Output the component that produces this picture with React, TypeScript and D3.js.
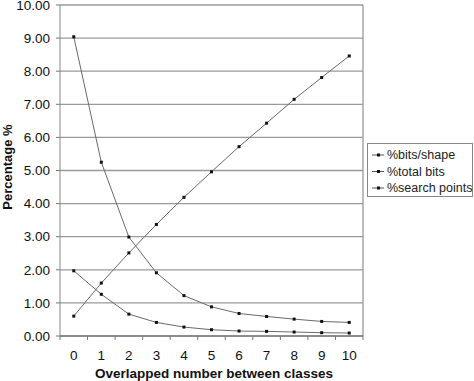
import React from "react";
import * as d3 from "d3";

const categories = ["0", "1", "2", "3", "4", "5", "6", "7", "8", "9", "10"];
const bitsShape = [9.04, 5.25, 2.99, 1.91, 1.22, 0.88, 0.68, 0.59, 0.51, 0.44, 0.41];
const totalBits = [1.97, 1.26, 0.66, 0.41, 0.27, 0.19, 0.15, 0.14, 0.12, 0.1, 0.09];
const searchPoints = [0.6, 1.6, 2.51, 3.37, 4.19, 4.96, 5.72, 6.43, 7.15, 7.81, 8.46];
const yTicks = [0, 1, 2, 3, 4, 5, 6, 7, 8, 9, 10];
const seriesNames = ["%bits/shape", "%total bits", "%search points"];

export default function App() {
  const W = 474, H = 381;
  const left = 60, right = 363, top = 5, bottom = 336;
  const x = d3.scaleBand<string>().domain(categories).range([left, right]);
  const y = d3.scaleLinear().domain([0, 10]).range([bottom, top]);
  const cx = (i: number) => (x(categories[i]) ?? 0) + x.bandwidth() / 2;
  const line = d3.line<number>().x((_, i) => cx(i)).y((d) => y(d));
  const series = [bitsShape, totalBits, searchPoints];
  const font = "Liberation Sans, Arial, sans-serif";

  return (
    <svg width={W} height={H} style={{ position: "absolute", left: 0, top: 0, background: "#fff" }}>
      {yTicks.map((t) => (
        <line key={"g" + t} x1={left} x2={right} y1={y(t)} y2={y(t)} stroke="#9a9a9a" strokeWidth={1.3} />
      ))}
      <line x1={right} x2={right} y1={top} y2={bottom} stroke="#9a9a9a" strokeWidth={1.3} />
      <line x1={left} x2={left} y1={top} y2={bottom} stroke="#888" strokeWidth={1} />
      <line x1={left} x2={right} y1={bottom} y2={bottom} stroke="#666" strokeWidth={1} />
      {yTicks.map((t) => (
        <g key={"yt" + t}>
          <line x1={left - 4} x2={left} y1={y(t)} y2={y(t)} stroke="#777" />
          <text x={50} y={y(t)} dy="0.35em" textAnchor="end" fontFamily={font} fontSize={13.5} fill="#111">
            {t.toFixed(2)}
          </text>
        </g>
      ))}
      {categories.concat([""]).map((c, i) => {
        const xx = left + i * x.step();
        return <line key={"xt" + i} x1={xx} x2={xx} y1={bottom} y2={bottom + 4} stroke="#777" />;
      })}
      {categories.map((c, i) => (
        <text key={"xl" + c} x={cx(i)} y={360} textAnchor="middle" fontFamily={font} fontSize={13.5} fill="#111">
          {c}
        </text>
      ))}
      <text x={214} y={378} textAnchor="middle" fontFamily={font} fontSize={13.5} fontWeight="bold" fill="#111">
        Overlapped number between classes
      </text>
      <text
        transform={`translate(12,167) rotate(-90)`}
        textAnchor="middle"
        fontFamily={font}
        fontSize={13}
        fontWeight="bold"
        fill="#111"
      >
        Percentage %
      </text>
      {series.map((s, k) => (
        <g key={"s" + k}>
          <path d={line(s) ?? ""} fill="none" stroke="#6a6a6a" strokeWidth={1} />
          {s.map((v, i) => (
            <rect key={i} x={cx(i) - 1.5} y={y(v) - 1.5} width={3} height={3} fill="#111" />
          ))}
        </g>
      ))}
      <rect x={367.5} y={143.5} width={105} height={53} fill="#fff" stroke="#888" />
      {seriesNames.map((n, i) => {
        const ly = 155 + i * 16.5;
        return (
          <g key={"l" + i}>
            <line x1={372} x2={384} y1={ly} y2={ly} stroke="#555" />
            <rect x={377} y={ly - 1.5} width={3} height={3} fill="#111" />
            <text x={387} y={ly} dy="0.35em" fontFamily={font} fontSize={12.5} fill="#222">
              {n}
            </text>
          </g>
        );
      })}
    </svg>
  );
}
